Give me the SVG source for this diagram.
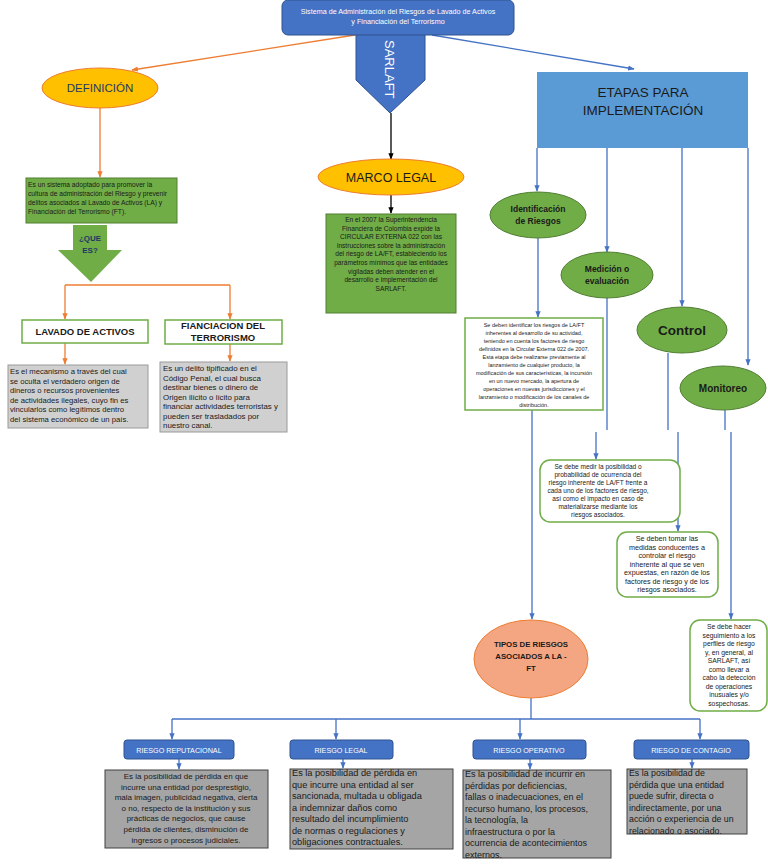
<svg xmlns="http://www.w3.org/2000/svg" width="768" height="866" viewBox="0 0 768 866">
<defs>
<marker id="ab" viewBox="0 0 10 10" refX="9" refY="5" markerWidth="5" markerHeight="5" orient="auto"><path d="M0,1 L10,5 L0,9 z" fill="#4472C4"/></marker>
<marker id="ao" viewBox="0 0 10 10" refX="9" refY="5" markerWidth="5" markerHeight="5" orient="auto"><path d="M0,1 L10,5 L0,9 z" fill="#ED7D31"/></marker>
<marker id="ak" viewBox="0 0 10 10" refX="9" refY="5" markerWidth="5" markerHeight="5" orient="auto"><path d="M0,1 L10,5 L0,9 z" fill="#000"/></marker>
</defs>
<style>
text{font-family:"Liberation Sans",Arial,sans-serif;fill:#1a1a1a}
.c{text-anchor:middle}
.b{font-weight:bold}
.w{fill:#fff}
.lb{stroke:#4472C4;stroke-width:1.3;fill:none}
.lo{stroke:#ED7D31;stroke-width:1.3;fill:none}
.lk{stroke:#000;stroke-width:1.3;fill:none}
.gbox{fill:#70AD47;stroke:#507E32;stroke-width:1}
.gell{fill:#70AD47;stroke:#507E32;stroke-width:1}
.wbox{fill:#fff;stroke:#70AD47;stroke-width:1.5}
.gray1{fill:#D0D0D0;stroke:#9a9a9a;stroke-width:1}
.gray2{fill:#A5A5A5;stroke:#404040;stroke-width:1}
.hdr{fill:#4472C4;stroke:#2F528F;stroke-width:1}
.yel{fill:#FFC000;stroke:#ED7D31;stroke-width:1}
</style>
<rect width="768" height="866" fill="#fff"/>

<g id="connectors">
<path class="lo" d="M355,35 L132,70" marker-end="url(#ao)"/>
<path class="lb" d="M432,35 L634,69" marker-end="url(#ab)"/>
<path class="lk" d="M391,113 V159" marker-end="url(#ak)"/>
<path class="lo" d="M100,108 V177" marker-end="url(#ao)"/>
<path class="lo" d="M65,285 H230"/>
<path class="lo" d="M65,285 V319" marker-end="url(#ao)"/>
<path class="lo" d="M230,285 V319" marker-end="url(#ao)"/>
<path class="lo" d="M65,343 V364" marker-end="url(#ao)"/>
<path class="lo" d="M230,344 V361" marker-end="url(#ao)"/>
<path class="lk" d="M391,195 V213" marker-end="url(#ak)"/>
<path class="lb" d="M537,148 V191" marker-end="url(#ab)"/>
<path class="lb" d="M607,148 V252" marker-end="url(#ab)"/>
<path class="lb" d="M682,148 V306" marker-end="url(#ab)"/>
<path class="lb" d="M748,148 V365" marker-end="url(#ab)"/>
<path class="lb" d="M538,238 V317" marker-end="url(#ab)"/>
<path class="lb" d="M532,410 V619" marker-end="url(#ab)"/>
<path class="lb" d="M607,297 V430"/>
<path class="lb" d="M596,432 V459" marker-end="url(#ab)"/>
<path class="lb" d="M668,353 V430"/>
<path class="lb" d="M678,432 V531" marker-end="url(#ab)"/>
<path class="lb" d="M725,410 V430"/>
<path class="lb" d="M731,432 V619" marker-end="url(#ab)"/>
<path class="lb" d="M531,698 V719"/>
<path class="lb" d="M172,719 H700"/>
<path class="lb" d="M172,719 V739" marker-end="url(#ab)"/>
<path class="lb" d="M336,719 V739" marker-end="url(#ab)"/>
<path class="lb" d="M520,719 V739" marker-end="url(#ab)"/>
<path class="lb" d="M700,719 V739" marker-end="url(#ab)"/>
<path class="lb" d="M179,759 V769" marker-end="url(#ab)"/>
<path class="lb" d="M343,759 V768" marker-end="url(#ab)"/>
<path class="lb" d="M530,759 V769" marker-end="url(#ab)"/>
<path class="lb" d="M692,759 V768" marker-end="url(#ab)"/>
</g>

<g id="sarlaft">
<polygon points="356,30 425,30 425,80 390,113 356,80" fill="#4472C4" stroke="#2F528F" stroke-width="1"/>
<text class="w" font-size="13" transform="translate(385,40) rotate(90)">SARLAFT</text>
</g>

<g id="title">
<rect x="282" y="0" width="232" height="35" rx="6" class="hdr"/>
<text class="c w" x="398" y="14" font-size="7.2">Sistema de Administración del Riesgos de Lavado de Activos</text>
<text class="c w" x="398" y="23.5" font-size="7.2">y Financiación del Terrorismo</text>
</g>

<g id="definicion">
<ellipse cx="100" cy="88" rx="58" ry="20" class="yel"/>
<text class="c" x="100" y="92" font-size="11.5" style="fill:#1F3864">DEFINICIÓN</text>
</g>

<g id="definicion-texto">
<rect x="26" y="178" width="151" height="45" class="gbox"/>
<g font-size="6.7">
<text x="28" y="187">Es un sistema adoptado para promover la</text>
<text x="28" y="196">cultura de administración del Riesgo y prevenir</text>
<text x="28" y="205">delitos asociados al Lavado de Activos (LA) y</text>
<text x="28" y="214">Financiación del Terrorismo (FT).</text>
</g>
</g>

<g id="que-es">
<polygon points="73,225 107,225 107,250 122,250 91,282 58,250 73,250" fill="#70AD47"/>
<text class="c b" x="90" y="241" font-size="8" style="fill:#1F3864">¿QUE</text>
<text class="c b" x="90" y="253" font-size="8" style="fill:#1F3864">ES?</text>
</g>

<g id="lavado">
<rect x="22" y="320" width="126" height="23" class="wbox"/>
<text class="c b" x="85" y="335" font-size="9.5">LAVADO DE ACTIVOS</text>
</g>
<g id="lavado-texto">
<rect x="8" y="365" width="140" height="63" class="gray1"/>
<g font-size="7.7">
<text x="10" y="374">Es el mecanismo a través del cual</text>
<text x="10" y="383.5">se oculta el verdadero origen de</text>
<text x="10" y="393">dineros o recursos provenientes</text>
<text x="10" y="402.5">de actividades ilegales, cuyo fin es</text>
<text x="10" y="412">vincularlos como legítimos dentro</text>
<text x="10" y="421.5">del sistema económico de un país.</text>
</g>
</g>

<g id="financiacion">
<rect x="165" y="320" width="117" height="24" class="wbox"/>
<text class="c b" x="223" y="329" font-size="9.5">FIANCIACION DEL</text>
<text class="c b" x="223" y="341" font-size="9.5">TERRORISMO</text>
</g>
<g id="financiacion-texto">
<rect x="160" y="362" width="127" height="70" class="gray1"/>
<g font-size="7.9">
<text x="163" y="371">Es un delito tipificado en el</text>
<text x="163" y="380.5">Código Penal, el cual busca</text>
<text x="163" y="390">destinar bienes o dinero de</text>
<text x="163" y="399.5">Origen ilícito o lícito para</text>
<text x="163" y="409">financiar actividades terroristas y</text>
<text x="163" y="418.5">pueden ser trasladados por</text>
<text x="163" y="428">nuestro canal.</text>
</g>
</g>

<g id="marco-legal">
<ellipse cx="391" cy="177" rx="73" ry="18" class="yel"/>
<text class="c" x="391" y="182" font-size="12.5">MARCO LEGAL</text>
</g>
<g id="marco-texto">
<rect x="326" y="214" width="130" height="99" class="gbox"/>
<g font-size="6.6" class="c">
<text x="391" y="222">En el 2007 la Superintendencia</text>
<text x="391" y="230.6">Financiera de Colombia expide la</text>
<text x="391" y="239.2">CIRCULAR EXTERNA 022 con las</text>
<text x="391" y="247.8">instrucciones sobre la administración</text>
<text x="391" y="256.4">del riesgo de LA/FT, estableciendo los</text>
<text x="391" y="265">parámetros mínimos que las entidades</text>
<text x="391" y="273.6">vigiladas deben atender en el</text>
<text x="391" y="282.2">desarrollo e implementación del</text>
<text x="391" y="290.8">SARLAFT.</text>
</g>
</g>

<g id="etapas">
<rect x="537" y="72" width="211" height="76" fill="#5B9BD5"/>
<text class="c" x="643" y="97" font-size="13.5">ETAPAS PARA</text>
<text class="c" x="643" y="115" font-size="13.5">IMPLEMENTACIÓN</text>
</g>

<g id="identificacion">
<ellipse cx="538" cy="215" rx="48" ry="23" class="gell"/>
<text class="c b" x="538" y="212" font-size="8.5">Identificación</text>
<text class="c b" x="538" y="224" font-size="8.5">de Riesgos</text>
</g>
<g id="identificacion-texto">
<rect x="465" y="318" width="138" height="92" class="wbox"/>
<g font-size="5.5" class="c">
<text x="534" y="327">Se deben identificar los riesgos de LA/FT</text>
<text x="534" y="335">inherentes al desarrollo de su actividad,</text>
<text x="534" y="343">teniendo en cuenta los factores de riesgo</text>
<text x="534" y="351">definidos en la Circular Externa 022 de 2007.</text>
<text x="534" y="359">Esta etapa debe realizarse previamente al</text>
<text x="534" y="367">lanzamiento de cualquier producto, la</text>
<text x="534" y="375">modificación de sus características, la incursión</text>
<text x="534" y="383">en un nuevo mercado, la apertura de</text>
<text x="534" y="391">operaciones en nuevas jurisdicciones y el</text>
<text x="534" y="399">lanzamiento o modificación de los canales de</text>
<text x="534" y="407">distribución.</text>
</g>
</g>

<g id="medicion">
<ellipse cx="607" cy="275" rx="46" ry="23" class="gell"/>
<text class="c b" x="607" y="272" font-size="8.5">Medición o</text>
<text class="c b" x="607" y="284" font-size="8.5">evaluación</text>
</g>
<g id="medicion-texto">
<rect x="540" y="460" width="140" height="62" rx="10" class="wbox"/>
<g font-size="6.5" class="c">
<text x="598" y="469">Se debe medir la posibilidad o</text>
<text x="598" y="477">probabilidad de ocurrencia del</text>
<text x="598" y="485">riesgo inherente de LA/FT frente a</text>
<text x="598" y="493">cada uno de los factores de riesgo,</text>
<text x="598" y="501">así como el impacto en caso de</text>
<text x="598" y="509">materializarse mediante los</text>
<text x="598" y="517">riesgos asociados.</text>
</g>
</g>

<g id="control">
<ellipse cx="682" cy="330" rx="45" ry="23" class="gell"/>
<text class="c b" x="682" y="335" font-size="13.5">Control</text>
</g>
<g id="control-texto">
<rect x="617" y="532" width="101" height="65" rx="10" class="wbox"/>
<g font-size="7.2" class="c">
<text x="667" y="541">Se deben tomar las</text>
<text x="667" y="549.5">medidas conducentes a</text>
<text x="667" y="558">controlar el riesgo</text>
<text x="667" y="566.5">inherente al que se ven</text>
<text x="667" y="575">expuestas, en razón de los</text>
<text x="667" y="583.5">factores de riesgo y de los</text>
<text x="667" y="592">riesgos asociados.</text>
</g>
</g>

<g id="monitoreo">
<ellipse cx="723" cy="388" rx="43" ry="22" class="gell"/>
<text class="c b" x="723" y="392" font-size="10">Monitoreo</text>
</g>
<g id="monitoreo-texto">
<rect x="690" y="620" width="77" height="91" rx="10" class="wbox"/>
<g font-size="6.8" class="c">
<text x="729" y="629">Se debe hacer</text>
<text x="729" y="637.5">seguimiento a los</text>
<text x="729" y="646">perfiles de riesgo</text>
<text x="729" y="654.5">y, en general, al</text>
<text x="729" y="663">SARLAFT, así</text>
<text x="729" y="671.5">como llevar a</text>
<text x="729" y="680">cabo la detección</text>
<text x="729" y="688.5">de operaciones</text>
<text x="729" y="697">inusuales y/o</text>
<text x="729" y="705.5">sospechosas.</text>
</g>
</g>

<g id="tipos">
<ellipse cx="531" cy="659" rx="57" ry="39" fill="#F4A582" stroke="#ED7D31" stroke-width="1"/>
<text class="c b" x="531" y="647" font-size="7.8">TIPOS DE RIESGOS</text>
<text class="c b" x="531" y="659" font-size="7.8">ASOCIADOS A LA -</text>
<text class="c b" x="531" y="671" font-size="7.8">FT</text>
</g>

<g id="reputacional">
<rect x="124" y="740" width="110" height="19" rx="3" class="hdr"/>
<text class="c w" x="179" y="752.5" font-size="7.2">RIESGO REPUTACIONAL</text>
<rect x="105" y="770" width="163" height="78" class="gray2"/>
<g font-size="8" class="c">
<text x="186" y="779">Es la posibilidad de pérdida en que</text>
<text x="186" y="789.6">incurre una entidad por desprestigio,</text>
<text x="186" y="800.2">mala imagen, publicidad negativa, cierta</text>
<text x="186" y="810.8">o no, respecto de la institución y sus</text>
<text x="186" y="821.4">prácticas de negocios, que cause</text>
<text x="186" y="832">pérdida de clientes, disminución de</text>
<text x="186" y="842.6">ingresos o procesos judiciales.</text>
</g>
</g>

<g id="legal">
<rect x="290" y="740" width="103" height="19" rx="3" class="hdr"/>
<text class="c w" x="341" y="752.5" font-size="7.2">RIESGO LEGAL</text>
<rect x="290" y="769" width="163" height="80" class="gray2"/>
<g font-size="9.2">
<text x="292" y="776">Es la posibilidad de pérdida en</text>
<text x="292" y="787.5">que incurre una entidad al ser</text>
<text x="292" y="799">sancionada, multada u obligada</text>
<text x="292" y="810.5">a indemnizar daños como</text>
<text x="292" y="822">resultado del incumplimiento</text>
<text x="292" y="833.5">de normas o regulaciones y</text>
<text x="292" y="845">obligaciones contractuales.</text>
</g>
</g>

<g id="operativo">
<rect x="473" y="740" width="113" height="19" rx="3" class="hdr"/>
<text class="c w" x="529" y="752.5" font-size="7.2">RIESGO OPERATIVO</text>
<rect x="463" y="770" width="148" height="88" class="gray2"/>
<g font-size="9">
<text x="465" y="777">Es la posibilidad de incurrir en</text>
<text x="465" y="788.5">pérdidas por deficiencias,</text>
<text x="465" y="800">fallas o inadecuaciones, en el</text>
<text x="465" y="811.5">recurso humano, los procesos,</text>
<text x="465" y="823">la tecnología, la</text>
<text x="465" y="834.5">infraestructura o por la</text>
<text x="465" y="846">ocurrencia de acontecimientos</text>
<text x="465" y="857.5">externos.</text>
</g>
</g>

<g id="contagio">
<rect x="634" y="740" width="115" height="19" rx="3" class="hdr"/>
<text class="c w" x="691" y="752.5" font-size="7.2">RIESGO DE CONTAGIO</text>
<rect x="627" y="769" width="120" height="65" class="gray2"/>
<g font-size="8.8">
<text x="629" y="776">Es la posibilidad de</text>
<text x="629" y="787.5">pérdida que una entidad</text>
<text x="629" y="799">puede sufrir, directa o</text>
<text x="629" y="810.5">indirectamente, por una</text>
<text x="629" y="822">acción o experiencia de un</text>
<text x="629" y="833.5">relacionado o asociado.</text>
</g>
</g>
</svg>
